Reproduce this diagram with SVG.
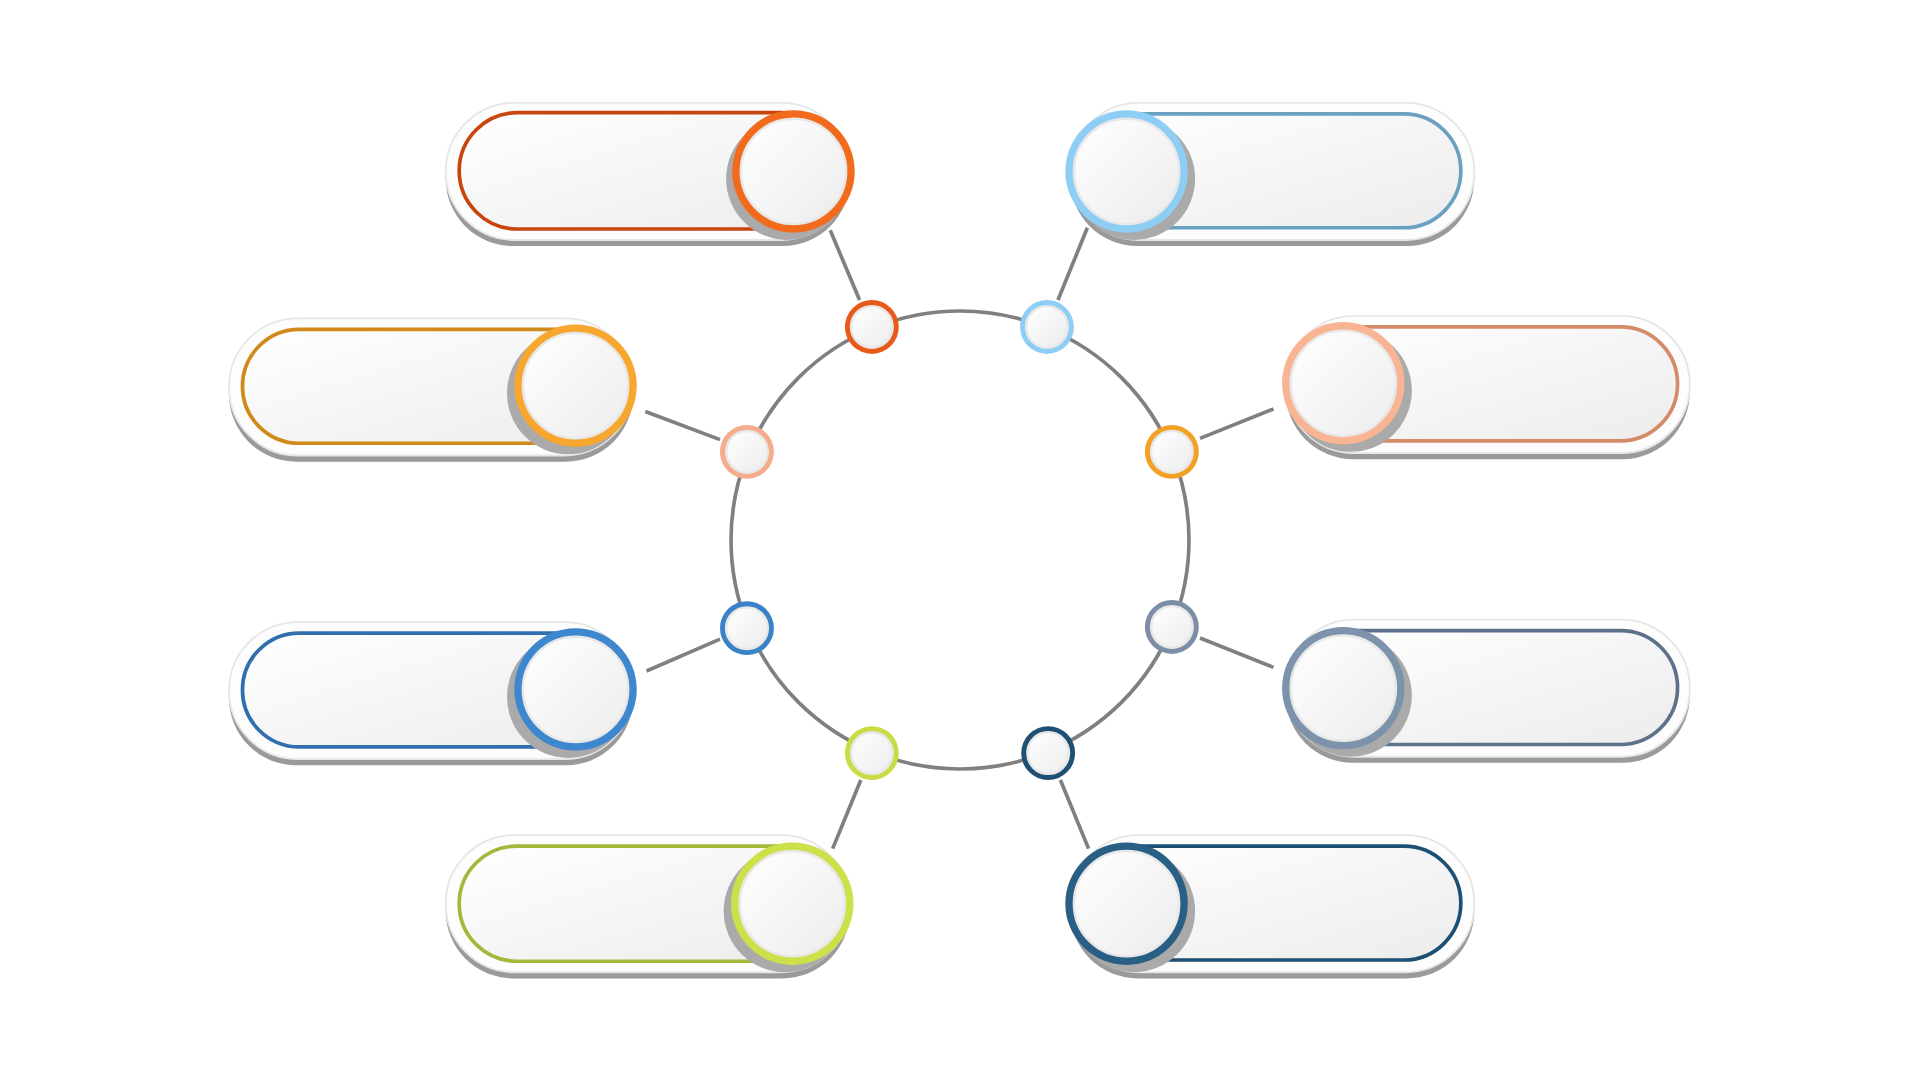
<svg xmlns="http://www.w3.org/2000/svg" width="1920" height="1080" viewBox="0 0 1920 1080">
<defs>
<linearGradient id="wg" x1="0" y1="0" x2="1" y2="1"><stop offset="0" stop-color="#ffffff"/><stop offset="1" stop-color="#ececec"/></linearGradient>
<style>
.outer{fill:#fdfdfd;stroke:#e6e6e6;stroke-width:1.5}
.shadow{fill:#9a9a9a}
.inner{fill:url(#wg)}
.conn{stroke:#808080;stroke-width:3;fill:none}
.inwhite{fill:url(#wg);stroke:#e8e8e8;stroke-width:2}
</style>
</defs>
<rect width="1920" height="1080" fill="#ffffff"/>
<g transform="scale(1.2245)">
<g id="connectors">
<circle class="conn" cx="784" cy="441" r="187"/>
<line class="conn" x1="702" y1="245" x2="678" y2="188"/>
<line class="conn" x1="864" y1="245" x2="888" y2="186"/>
<line class="conn" x1="588" y1="359" x2="527" y2="336"/>
<line class="conn" x1="980" y1="358" x2="1040" y2="334"/>
<line class="conn" x1="588" y1="522" x2="528" y2="548"/>
<line class="conn" x1="980" y1="521" x2="1040" y2="545"/>
<line class="conn" x1="703" y1="637" x2="680" y2="693"/>
<line class="conn" x1="866" y1="637" x2="889" y2="693"/>
</g>
<!-- small circles -->
<g id="s1"><circle cx="712" cy="267" r="22" fill="#e85a1a"/><circle cx="712" cy="267" r="17" class="inwhite"/></g>
<g id="s2"><circle cx="855" cy="267" r="22" fill="#8ecef5"/><circle cx="855" cy="267" r="17" class="inwhite"/></g>
<g id="s3"><circle cx="610" cy="369" r="22" fill="#f5ab8c"/><circle cx="610" cy="369" r="17" class="inwhite"/></g>
<g id="s4"><circle cx="957" cy="369" r="22" fill="#f3a126"/><circle cx="957" cy="369" r="17" class="inwhite"/></g>
<g id="s5"><circle cx="610" cy="513" r="22" fill="#3a82c8"/><circle cx="610" cy="513" r="17" class="inwhite"/></g>
<g id="s6"><circle cx="957" cy="512" r="22" fill="#7b8ea5"/><circle cx="957" cy="512" r="17" class="inwhite"/></g>
<g id="s7"><circle cx="712" cy="615" r="22" fill="#c9db45"/><circle cx="712" cy="615" r="17" class="inwhite"/></g>
<g id="s8"><circle cx="856" cy="615" r="22" fill="#1f4f72"/><circle cx="856" cy="615" r="17" class="inwhite"/></g>

<!-- pills: shadow, outer, stroke rect, big circle -->
<g id="p1">
<rect class="shadow" x="364" y="90" width="330" height="111" rx="55"/>
<rect class="outer" x="364" y="84" width="330" height="112" rx="56"/>
<rect class="inner" x="375" y="92" width="310" height="95" rx="47.5" stroke="#c9450e" stroke-width="3"/>
<circle cx="643" cy="146" r="50" fill="#aaaaaa"/>
<circle cx="648" cy="140" r="50" fill="#f26b1d"/>
<circle cx="648" cy="140" r="43" class="inwhite"/>
</g>
<g id="p2">
<rect class="shadow" x="874" y="90" width="330" height="111" rx="55"/>
<rect class="outer" x="874" y="84" width="330" height="112" rx="56"/>
<rect class="inner" x="883" y="93" width="310" height="93" rx="46.5" stroke="#6aa0c0" stroke-width="3"/>
<circle cx="926" cy="146" r="50" fill="#aaaaaa"/>
<circle cx="920" cy="140" r="50" fill="#8ecef5"/>
<circle cx="920" cy="140" r="43" class="inwhite"/>
</g>
<g id="p3">
<rect class="shadow" x="187" y="266" width="330" height="111" rx="55"/>
<rect class="outer" x="187" y="260" width="330" height="112" rx="56"/>
<rect class="inner" x="198" y="269" width="310" height="93" rx="46.5" stroke="#d08a1a" stroke-width="3"/>
<circle cx="464" cy="321" r="50" fill="#aaaaaa"/>
<circle cx="470" cy="315" r="50" fill="#f7a72e"/>
<circle cx="470" cy="315" r="43" class="inwhite"/>
</g>
<g id="p4">
<rect class="shadow" x="1050" y="264" width="330" height="111" rx="55"/>
<rect class="outer" x="1050" y="258" width="330" height="112" rx="56"/>
<rect class="inner" x="1060" y="267" width="310" height="93" rx="46.5" stroke="#d58a6a" stroke-width="3"/>
<circle cx="1103" cy="319" r="50" fill="#aaaaaa"/>
<circle cx="1097" cy="313" r="50" fill="#f9b493"/>
<circle cx="1097" cy="313" r="43" class="inwhite"/>
</g>
<g id="p5">
<rect class="shadow" x="187" y="514" width="330" height="111" rx="55"/>
<rect class="outer" x="187" y="508" width="330" height="112" rx="56"/>
<rect class="inner" x="198" y="517" width="310" height="93" rx="46.5" stroke="#2f6fad" stroke-width="3"/>
<circle cx="464" cy="569" r="50" fill="#aaaaaa"/>
<circle cx="470" cy="563" r="50" fill="#3d87cf"/>
<circle cx="470" cy="563" r="43" class="inwhite"/>
</g>
<g id="p6">
<rect class="shadow" x="1050" y="512" width="330" height="111" rx="55"/>
<rect class="outer" x="1050" y="506" width="330" height="112" rx="56"/>
<rect class="inner" x="1060" y="515" width="310" height="93" rx="46.5" stroke="#5d7189" stroke-width="3"/>
<circle cx="1103" cy="568" r="50" fill="#aaaaaa"/>
<circle cx="1097" cy="562" r="50" fill="#7d93ab"/>
<circle cx="1097" cy="562" r="43" class="inwhite"/>
</g>
<g id="p7">
<rect class="shadow" x="364" y="688" width="330" height="111" rx="55"/>
<rect class="outer" x="364" y="682" width="330" height="112" rx="56"/>
<rect class="inner" x="375" y="691" width="310" height="94" rx="47" stroke="#a2b83a" stroke-width="3"/>
<circle cx="641" cy="744" r="50" fill="#aaaaaa"/>
<circle cx="647" cy="738" r="50" fill="#cde04a"/>
<circle cx="647" cy="738" r="43" class="inwhite"/>
</g>
<g id="p8">
<rect class="shadow" x="874" y="688" width="330" height="111" rx="55"/>
<rect class="outer" x="874" y="682" width="330" height="112" rx="56"/>
<rect class="inner" x="883" y="691" width="310" height="93" rx="46.5" stroke="#1d4f74" stroke-width="3"/>
<circle cx="926" cy="744" r="50" fill="#aaaaaa"/>
<circle cx="920" cy="738" r="50" fill="#2a5f85"/>
<circle cx="920" cy="738" r="43" class="inwhite"/>
</g>
</g>
</svg>
